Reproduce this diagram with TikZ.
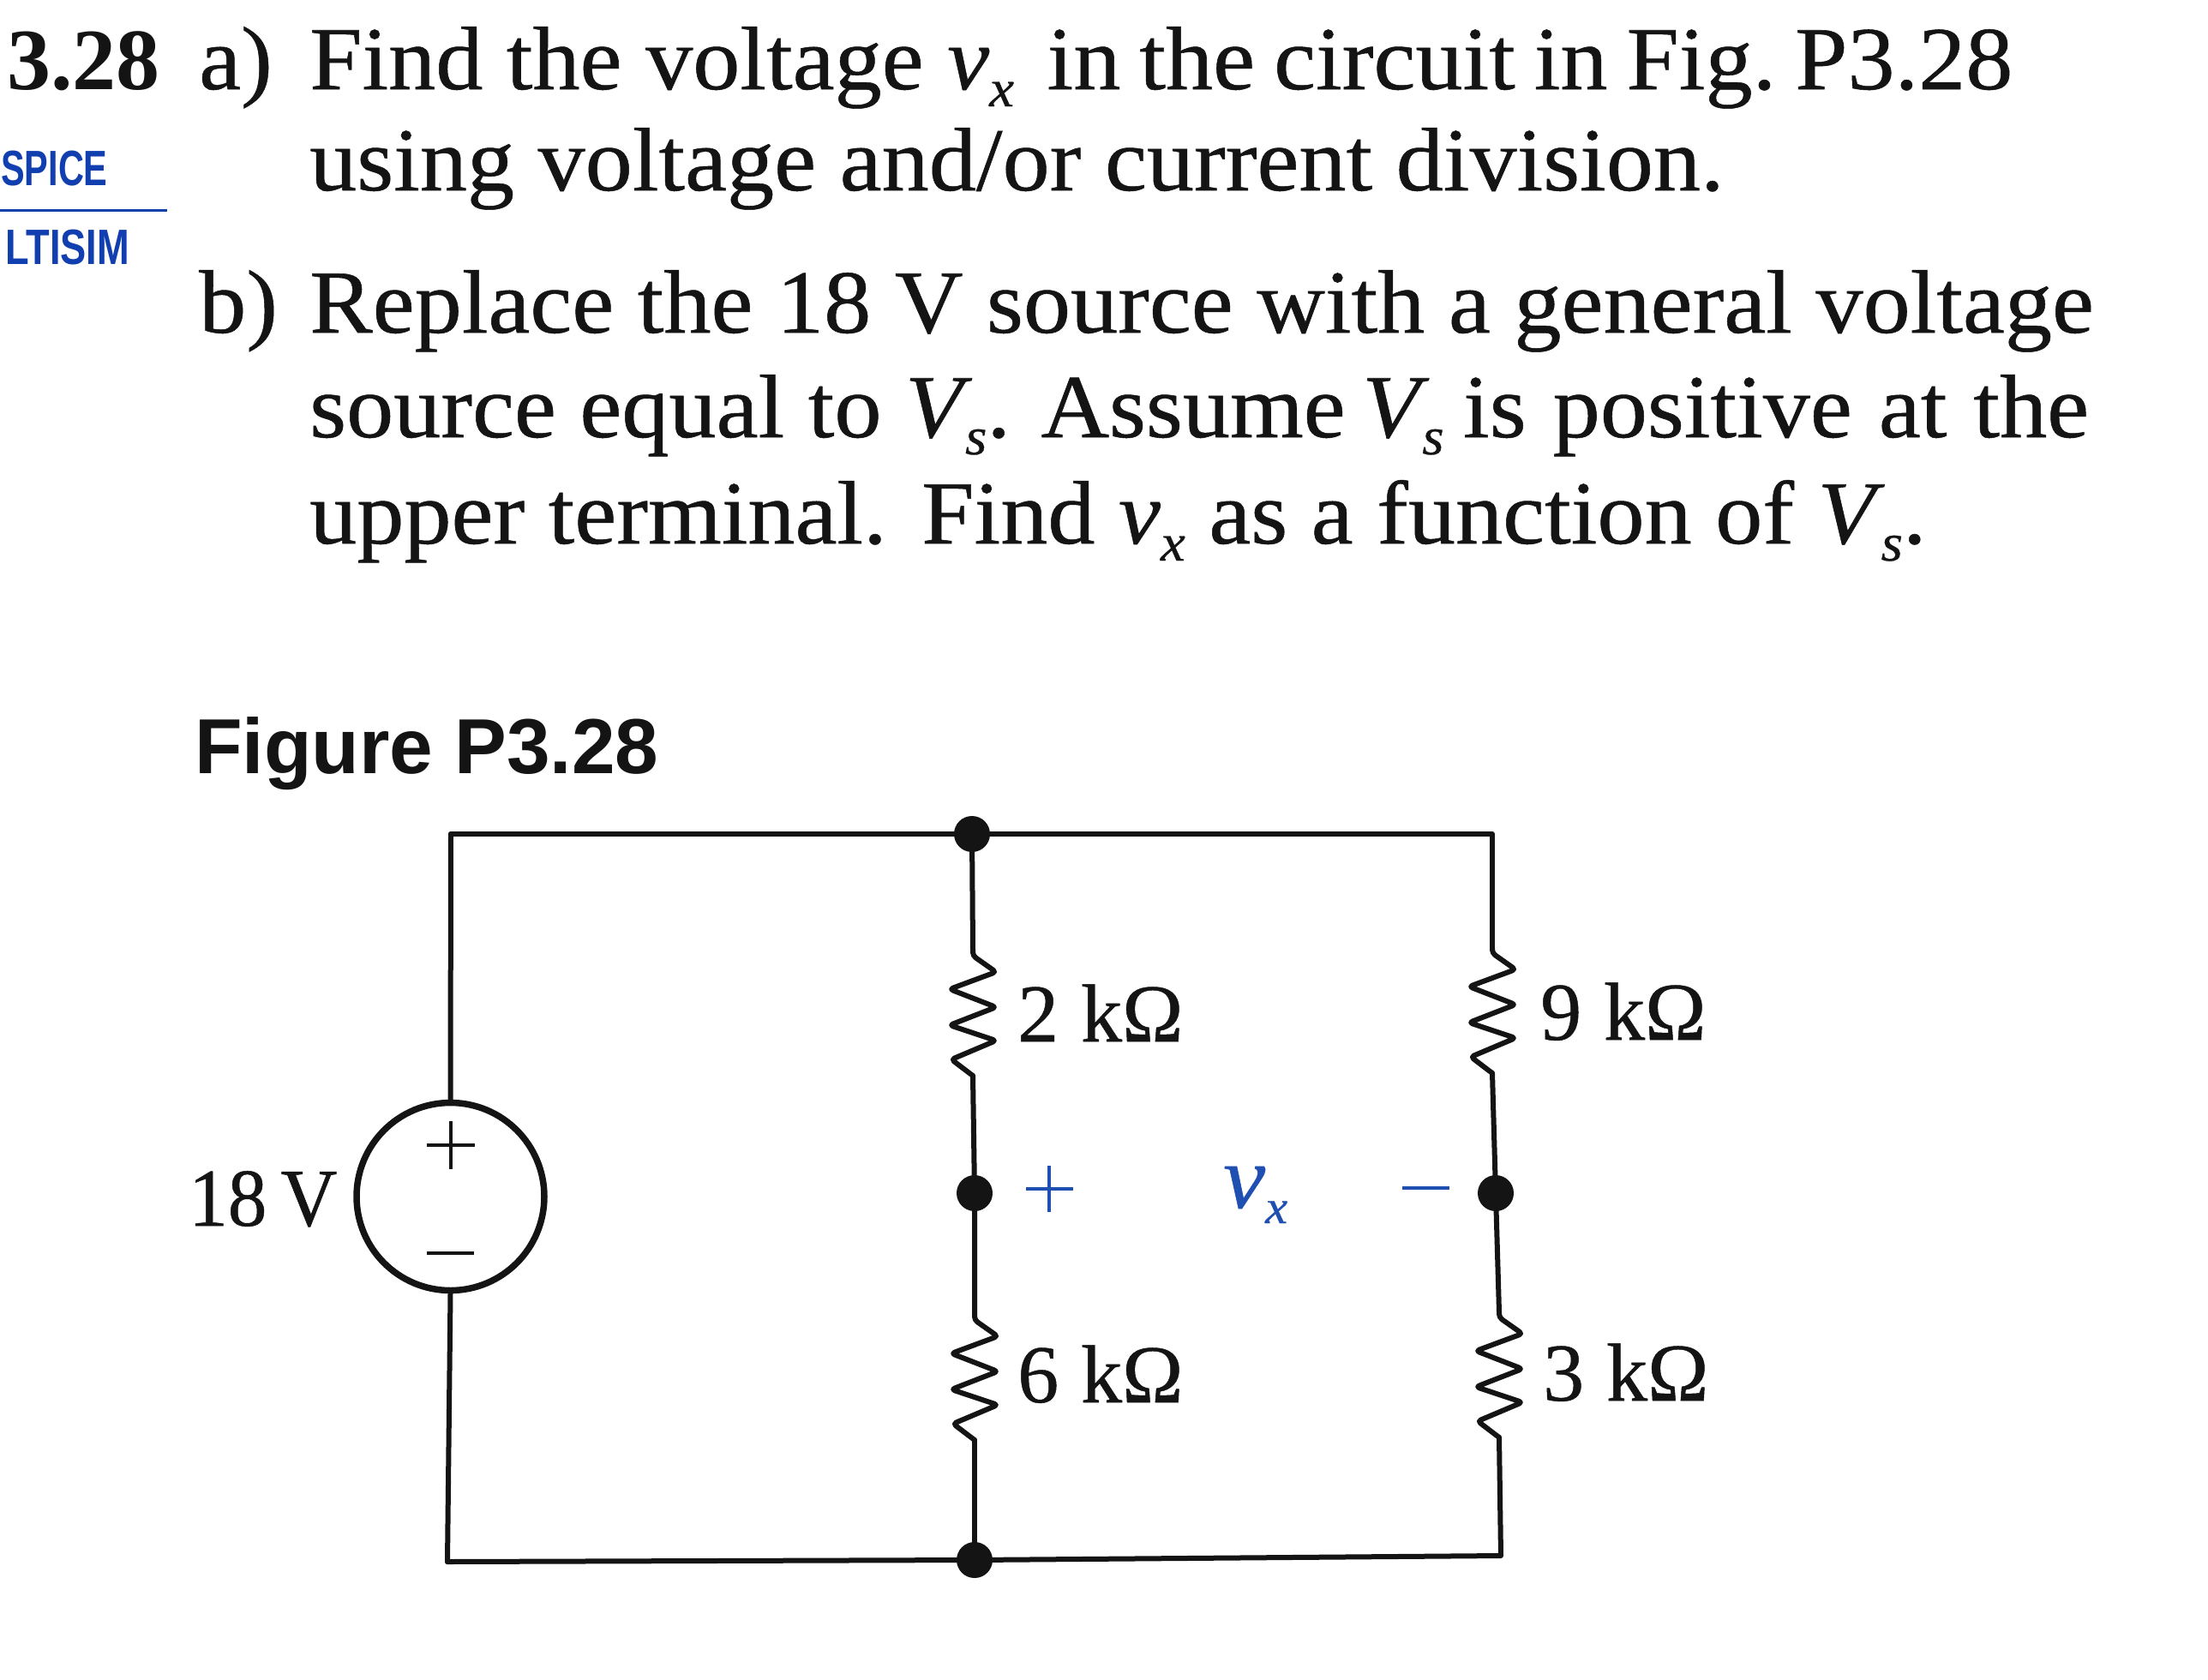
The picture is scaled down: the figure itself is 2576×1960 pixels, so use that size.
\documentclass[tikz,border=0pt]{standalone}
\usepackage{fontspec}
\setmainfont{Liberation Serif}[FakeStretch=1.05,FakeBold=0.5]
\setsansfont{Liberation Sans}
\newfontfamily\numfont{Liberation Serif}
\newfontfamily\lblfont{Liberation Serif}[FakeStretch=0.95,FakeBold=0.5]
\newfontfamily\ohmfont{Liberation Serif}[FakeStretch=1.0,FakeBold=0.5]
\newfontfamily\sidefont{Liberation Sans}[FakeStretch=0.78]
\newfontfamily\spicefont{Liberation Sans}[FakeStretch=0.715]
\newcommand{\bigtxt}{\fontsize{105}{110}\selectfont}
\newcommand{\lbltxt}{\lblfont\fontsize{96}{100}\selectfont}
\newcommand{\ohmtxt}{\ohmfont\fontsize{96}{100}\selectfont}
\newcommand{\subx}[1]{\raisebox{-20pt}{\fontsize{62}{62}\selectfont\textit{#1}}}
\newcommand{\subl}[1]{\raisebox{-18pt}{\fontsize{56}{56}\selectfont\textit{#1}}}
\newcommand{\vsub}{\textit{V}\kern-8pt\subx{s}}
\newcommand{\thinsp}{\hspace{0.17em}}
\newcommand{\ohmsp}{\hspace{0.27em}}
\definecolor{inkc}{HTML}{141414}
\definecolor{bluec}{HTML}{1F4FB0}
\definecolor{sideblue}{HTML}{123FB0}
\tikzset{
  wire/.style={draw=inkc,line width=6pt,line cap=round,line join=round},
  dotn/.style={circle,fill=inkc,draw=none,minimum size=42pt,inner sep=0pt},
  txt/.style={anchor=base west,inner sep=0pt,text=inkc,font=\bigtxt},
  lbl/.style={anchor=base west,inner sep=0pt,text=inkc,font=\lbltxt},
  ohm/.style={anchor=base west,inner sep=0pt,text=inkc,font=\ohmtxt},
  side/.style={anchor=base west,inner sep=0pt,text=sideblue,font=\sidefont\bfseries\fontsize{58}{58}\selectfont},
  srcn/.style={circle,draw=inkc,line width=7.5pt,minimum size=219pt,inner sep=0pt,fill=white},
  pics/res/.style={code={
    \draw[wire,rounded corners=4pt] (0,0) -- (0,6) -- (27,25) -- (-27,45) -- (27,66) -- (-27,87) -- (27,105) -- (-25,127) -- (0,146);
  }}
}
\begin{document}
\frenchspacing
\begin{tikzpicture}[x=1pt,y=-1pt]
\useasboundingbox (0,0) rectangle (2576,1960);
% header text
\node[anchor=base west,inner sep=0pt,text=inkc,font=\numfont\bfseries\fontsize{102}{110}\selectfont] (num) at (8,104) {3.28};
\node[txt] (pa) at (232,104) {a)};
\node[txt] (l1) at (361,104) {Find the voltage \textit{v}\subx{x}\hspace{11pt} {\spaceskip=22pt in the circuit in Fig. P3.28}};
\node[txt] (l2) at (361,222) {using voltage and/or current division.};
\node[txt] (pb) at (232,388) {b)};
\node[txt] (l3) at (361,388) {Replace the 18 V source with a general voltage};
\node[txt] (l4) at (361,510) {source equal to \vsub.\kern8pt\ Assume \kern-8pt\vsub\kern-5pt\ {\spaceskip=31pt is positive at the}};
\node[txt] (l5) at (361,634) {upper terminal.\hspace{13pt} Find \textit{v}\subx{x} as a function of \textit{V}\kern-4pt\subx{s}.};
% side labels
\node[anchor=base west,inner sep=0pt,text=sideblue,font=\spicefont\bfseries\fontsize{58}{58}\selectfont] (sp) at (1,216) {SPICE};
\coordinate (sl) at (0,245);
\coordinate (sr) at (195,245);
\draw[draw=sideblue,line width=3pt] (sl) -- (sr);
\node[side] (lt) at (6,308) {LTISIM};
\node[anchor=base west,inner sep=0pt,text=inkc,font=\sffamily\bfseries\fontsize{91}{91}\selectfont] (fig) at (227,902) {Figure P3.28};
% circuit nodes
\coordinate (tl) at (526,973);
\coordinate (tr) at (1741,973);
\coordinate (bl) at (522,1822);
\coordinate (br) at (1751,1815);
\node[dotn] (jt) at (1134,973) {};
\node[dotn] (jm) at (1137,1392) {};
\node[dotn] (jb) at (1137,1820) {};
\node[dotn] (jr) at (1745,1392) {};
\coordinate (r2t) at (1135,1109);
\coordinate (r2b) at (1135,1255);
\coordinate (r6t) at (1137,1534);
\coordinate (r6b) at (1137,1680);
\coordinate (r9t) at (1741,1106);
\coordinate (r9b) at (1741,1252);
\coordinate (r3t) at (1749,1531);
\coordinate (r3b) at (1749,1677);
% wires
\draw[wire] (tl) -- (jt.center) -- (tr) -- (r9t);
\draw[wire] (jt.center) -- (r2t);
\draw[wire] (r2b) -- (jm.center) -- (r6t);
\draw[wire] (r6b) -- (jb.center);
\draw[wire] (r9b) -- (jr.center) -- (r3t);
\draw[wire] (r3b) -- (br) -- (jb.center) -- (bl);
\node[srcn] (src) at (525.5,1396) {};
\draw[wire] (tl) -- (src.north);
\draw[wire] (bl) -- (src.south);
\pic at (r2t) {res};
\pic at (r6t) {res};
\pic at (r9t) {res};
\pic at (r3t) {res};
% source signs
\coordinate (pt) at (526,1308);
\coordinate (pb2) at (526,1364);
\coordinate (pl) at (498,1336);
\coordinate (pr) at (554,1336);
\coordinate (ml) at (498,1462);
\coordinate (mr) at (553,1462);
\draw[draw=inkc,line width=4.5pt] (pt) -- (pb2) (pl) -- (pr) (ml) -- (mr);
\node[lbl] (v18) at (220,1430) {18\thinsp V};
% labels
\node[ohm] (t2) at (1187,1215) {2\ohmsp kΩ};
\node[ohm] (t9) at (1797,1213) {9\ohmsp kΩ};
\node[ohm] (t6) at (1187,1636) {6\ohmsp kΩ};
\node[ohm] (t3) at (1800,1634) {3\ohmsp kΩ};
% vx
\coordinate (bpt) at (1224,1360);
\coordinate (bpb) at (1224,1414);
\coordinate (bpl) at (1197,1387);
\coordinate (bpr) at (1252,1387);
\coordinate (bml) at (1636,1386);
\coordinate (bmr) at (1691,1386);
\draw[draw=bluec,line width=4.5pt] (bpt) -- (bpb) (bpl) -- (bpr) (bml) -- (bmr);
\node[anchor=base west,inner sep=0pt,text=bluec,font=\bigtxt] (vx) at (1427,1409) {\textit{v}\subl{x}};
\end{tikzpicture}
\end{document}
